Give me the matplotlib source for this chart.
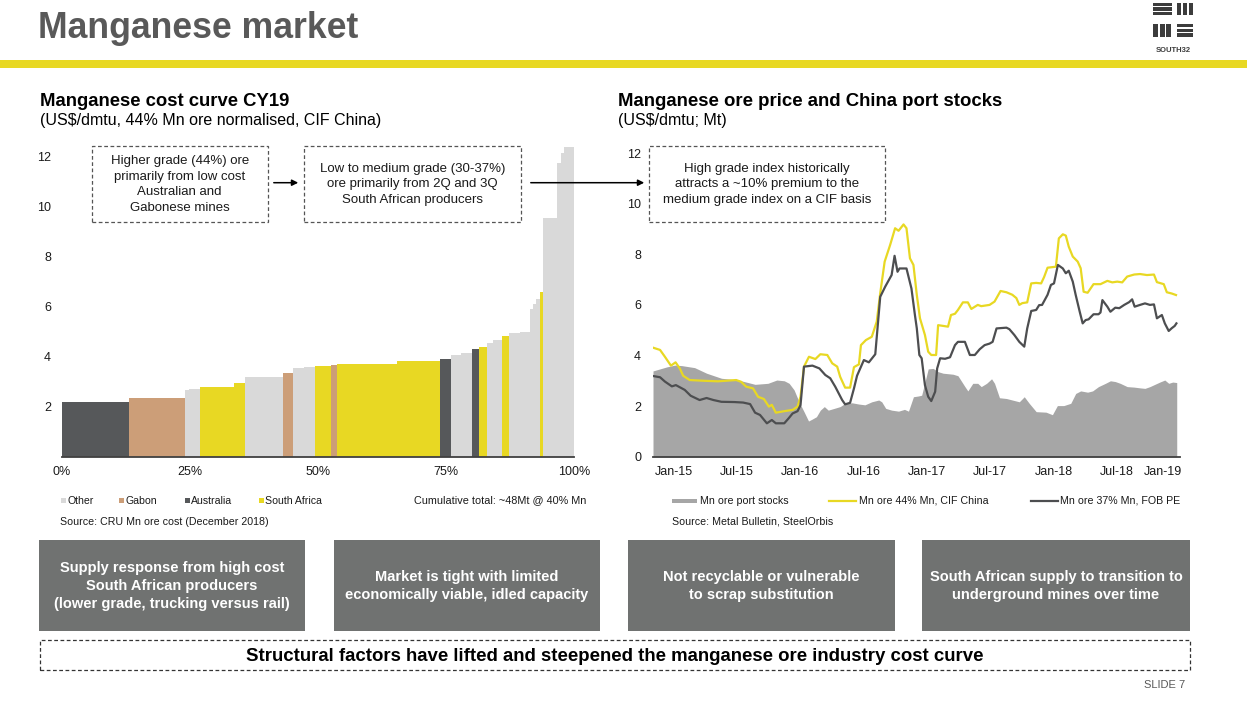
import numpy as np
import matplotlib.pyplot as plt
import matplotlib.transforms as mtrans
from matplotlib.patches import Rectangle, FancyArrowPatch

plt.rcParams['font.family'] = ['Liberation Sans', 'DejaVu Sans']

W, H = 1247, 711

# ---- cost curve data (cumulative % end of each producer, cost, origin) ----
seg_end = [13.2, 24.1, 24.9, 26.9, 33.7, 35.7, 40.0, 43.1, 45.2, 47.2, 49.5,
           52.5, 53.8, 59.9, 65.4, 73.9, 76.0, 78.0, 80.1, 81.4, 83.0, 84.2,
           85.9, 87.4, 89.5, 91.5, 92.0, 92.6, 93.3, 93.9, 96.7, 97.5, 98.0, 100.0]
seg_cost = [2.18, 2.33, 2.65, 2.72, 2.79, 2.95, 3.18, 3.2, 3.36, 3.55, 3.6,
            3.64, 3.67, 3.69, 3.71, 3.84, 3.91, 4.08, 4.16, 4.29, 4.4, 4.55,
            4.65, 4.83, 4.93, 5.0, 5.9, 6.1, 6.3, 6.6, 9.53, 11.76, 12.13, 12.37]
seg_region = ["Australia", "Gabon", "Other", "Other", "South Africa", "South Africa",
              "Other", "Other", "Gabon", "Other", "Other", "South Africa", "Gabon",
              "South Africa", "South Africa", "South Africa", "Australia", "Other",
              "Other", "Australia", "South Africa", "Other", "Other", "South Africa",
              "Other", "Other", "Other", "Other", "Other", "South Africa", "Other",
              "Other", "Other", "Other"]
region_names = ["Other", "Gabon", "Australia", "South Africa"]
region_colors = {"Other": "#D9D9D9", "Gabon": "#CC9E78",
                 "Australia": "#56585A", "South Africa": "#E8D823"}

# ---- price and port stocks (months since Jan-2015) ----
hg_x = [-1.98, -1.31, -0.85, -0.28, 0.16, 0.56, 0.88, 1.50, 2.91, 4.18, 5.91, 6.38, 6.85, 7.51,
        7.98, 8.54, 9.01, 9.29, 9.67, 10.47, 11.26, 11.73, 12.01, 12.34, 12.81, 13.42, 13.89,
        14.55, 15.02, 15.49, 15.77, 16.24, 16.71, 17.08, 17.55, 17.74, 18.21, 18.77, 19.24, 19.57,
        19.99, 20.51, 20.98, 21.31, 21.78, 22.06, 22.39, 22.72, 23.04, 23.34, 23.81, 24.12,
        24.41, 24.87, 25.06, 25.53, 26.00, 26.28, 26.66, 26.94, 27.41, 27.88, 28.21, 28.82, 29.15,
        29.94, 30.41, 30.98, 31.54, 32.10, 32.48, 32.76, 33.04, 33.51, 33.89, 34.36, 34.83, 35.11,
        35.44, 36.23, 36.51, 36.89, 37.17, 37.45, 37.83, 38.30, 38.58, 38.86, 39.24, 39.80, 40.46,
        41.11, 41.58, 42.05, 42.52, 42.99, 43.65, 44.21, 44.87, 45.53, 45.81, 46.46, 46.75, 47.22, 47.62]
hg_price = [4.31, 4.22, 3.95, 3.6, 3.73, 3.49, 3.2, 3.03, 3.0, 2.98, 3.03, 2.96, 2.77, 2.7,
            2.37, 2.28, 1.98, 2.05, 1.74, 1.8, 1.85, 1.98, 2.37, 3.56, 3.95, 3.86, 4.05,
            4.02, 3.69, 3.56, 3.16, 2.73, 2.73, 3.54, 3.65, 4.41, 4.61, 4.74, 5.34, 6.46,
            7.71, 8.37, 9.03, 8.93, 9.18, 9.03, 7.84, 7.58, 6.39, 5.47, 4.81, 4.15,
            4.02, 4.02, 5.2, 5.17, 5.14, 5.6, 5.65, 5.8, 6.1, 6.1, 5.84, 6.0, 5.95,
            6.0, 6.13, 6.55, 6.5, 6.4, 6.27, 6.0, 6.07, 6.1, 6.85, 6.87, 6.85, 7.1,
            7.47, 7.51, 8.63, 8.79, 8.74, 8.3, 7.91, 7.71, 7.45, 6.52, 6.48, 6.82, 6.82,
            6.95, 6.89, 6.92, 6.89, 7.12, 7.2, 7.22, 7.18, 7.2, 6.9, 6.82, 6.5, 6.45, 6.39]

mg_x = [-1.98, -1.31, -0.85, -0.19, 0.19, 1.03, 1.59, 2.44, 3.10, 3.75, 4.51, 5.73, 6.57, 7.23, 7.70,
        8.17, 8.82, 9.29, 9.67, 10.47, 10.89, 11.26, 11.73, 12.01, 12.34, 13.14, 13.80, 14.36,
        14.83, 15.30, 15.96, 16.24, 16.71, 17.08, 17.37, 18.02, 18.49, 19.10, 19.57, 20.04, 20.65,
        20.93, 21.21, 21.40, 22.06, 22.53, 22.86, 23.04, 23.28, 23.50, 23.81, 24.12, 24.41, 24.78,
        24.97, 25.25, 25.72, 26.19, 26.66, 26.94, 27.60, 28.07, 28.54, 29.01, 29.47, 29.94, 30.23,
        30.60, 31.54, 31.82, 32.29, 32.76, 33.23, 33.51, 33.89, 34.36, 34.64, 34.92, 35.44, 35.76,
        36.05, 36.42, 36.89, 37.17, 37.45, 37.83, 38.11, 38.49, 38.77, 39.05, 39.33, 39.80, 40.27,
        40.46, 40.64, 41.11, 41.40, 41.86, 42.24, 42.71, 43.18, 43.46, 43.70, 44.21, 44.68, 45.15,
        45.53, 45.81, 46.28, 46.56, 46.93, 47.22, 47.50, 47.66]
mg_price = [3.19, 3.14, 2.97, 2.78, 2.83, 2.64, 2.41, 2.24, 2.32, 2.24, 2.17, 2.16, 2.14, 2.08,
            1.74, 1.65, 1.32, 1.45, 1.32, 1.32, 1.52, 1.71, 1.8, 2.04, 3.56, 3.6, 3.49, 3.23,
            3.1, 2.77, 2.24, 2.07, 2.13, 2.7, 3.2, 3.82, 3.73, 4.05, 6.32, 6.72, 7.18,
            7.94, 7.31, 7.44, 7.44, 6.65, 5.6, 5.07, 4.02, 3.89, 2.83, 2.37, 2.2, 2.57,
            3.49, 3.89, 3.87, 3.93, 4.41, 4.54, 4.54, 4.02, 4.02, 4.25, 4.41, 4.47, 4.54,
            5.07, 5.1, 5.04, 4.81, 4.54, 4.35, 5.07, 5.76, 5.8, 5.99, 6.0, 6.4, 6.79,
            6.85, 7.58, 7.44, 7.25, 7.35, 6.92, 6.39, 5.73, 5.27, 5.4, 5.43, 5.63, 5.63,
            5.7, 6.19, 5.93, 5.73, 5.89, 5.87, 6.0, 6.11, 6.22, 5.93, 6.0, 6.06, 6.0,
            6.02, 5.47, 5.6, 5.27, 4.97, 5.08, 5.17, 5.27]

stock_x = [-1.98, -0.66, 0.09, 0.75, 1.97, 3.10, 4.51, 6.10, 7.70, 8.92, 9.76, 10.47, 10.93, 11.40,
           11.87, 12.34, 12.77, 13.14, 13.52, 13.89, 14.27, 14.64, 15.21, 15.77, 16.24, 16.90, 17.55,
           18.12, 18.77, 19.43, 19.71, 20.09, 20.65, 21.31, 21.87, 22.25, 22.72, 23.19, 23.50, 24.12,
           24.59, 25.06, 25.53, 26.47, 26.94, 27.60, 27.88, 28.35, 28.82, 29.15, 29.66, 30.13, 30.41,
           30.88, 31.54, 32.10, 32.76, 33.23, 33.70, 34.36, 35.29, 35.90, 36.37, 36.98, 37.64, 38.11,
           38.58, 39.24, 39.71, 40.27, 40.93, 41.40, 41.86, 42.33, 42.99, 43.65, 44.21, 44.68, 45.15,
           45.62, 46.09, 46.56, 46.93, 47.31, 47.69]
stock_mt = [3.39, 3.55, 3.62, 3.6, 3.52, 3.3, 3.1, 3.03, 2.86, 2.9, 3.03, 3.0, 2.9, 2.64,
            2.17, 1.78, 1.41, 1.49, 1.58, 1.84, 1.98, 1.84, 1.91, 1.98, 2.11, 2.13, 2.08,
            2.05, 2.17, 2.24, 2.17, 1.91, 1.84, 1.8, 1.87, 1.8, 2.37, 2.4, 2.43, 3.47,
            3.49, 3.36, 3.3, 3.26, 3.2, 2.77, 2.6, 2.9, 2.9, 2.77, 2.9, 3.08, 2.9,
            2.33, 2.3, 2.24, 2.17, 2.37, 2.11, 1.78, 1.76, 1.66, 2.02, 2.02, 2.11, 2.5,
            2.6, 2.55, 2.6, 2.77, 2.9, 3.0, 2.97, 2.9, 2.77, 2.75, 2.72, 2.7, 2.77,
            2.86, 2.95, 3.03, 2.9, 2.95, 2.93]

date_ticks = [0, 6, 12, 18, 24, 30, 36, 42, 48]
date_labels = ["Jan-15", "Jul-15", "Jan-16", "Jul-16", "Jan-17", "Jul-17", "Jan-18", "Jul-18", "Jan-19"]

YELLOW = "#E8D823"
DARK = "#4D4E50"
TXT = "#1A1A1A"


def fx(px):
    return px / W


def fy(py):
    return 1 - py / H


def rect(x0, y0, x1, y1, **kw):
    fig.add_artist(Rectangle((fx(x0), fy(y1)), (x1 - x0) / W, (y1 - y0) / H,
                             transform=fig.transFigure, **kw))


fig = plt.figure(figsize=(W / 100, H / 100), dpi=100)

# header
fig.text(fx(38), fy(29), "Manganese market", fontsize=25.7, fontweight="bold",
         color="#595959", ha="left", va="center")
rect(0, 60, W, 68, color=YELLOW, lw=0)

# logo
LOGO = "#3C3C3C"
for yy in [2.7, 7.2, 11.7]:
    rect(1152.7, yy, 1171.7, yy + 3.3, color=LOGO, lw=0)
for xx in [1176.7, 1182.7, 1188.7]:
    rect(xx, 2.7, xx + 4.6, 15, color=LOGO, lw=0)
for xx in [1152.7, 1159.5, 1166.3]:
    rect(xx, 24, xx + 5.0, 36.7, color=LOGO, lw=0)
for yy in [24, 28.6, 33.2]:
    rect(1176.7, yy, 1193.3, yy + 3.3, color=LOGO, lw=0)
fig.text(fx(1173), fy(50), "SOUTH32", fontsize=5.5, fontweight="bold",
         color=LOGO, ha="center", va="center")

# section titles
fig.text(fx(40), fy(101), "Manganese cost curve CY19", fontsize=13.3, fontweight="bold",
         color="black", ha="left", va="center")
fig.text(fx(40), fy(121), "(US$/dmtu, 44% Mn ore normalised, CIF China)", fontsize=11.5,
         color="black", ha="left", va="center")
fig.text(fx(618), fy(101), "Manganese ore price and China port stocks", fontsize=13.4,
         fontweight="bold", color="black", ha="left", va="center")
fig.text(fx(618), fy(121), "(US$/dmtu; Mt)", fontsize=11.5, color="black",
         ha="left", va="center")

# ---- left chart: cost curve ----
ax1 = fig.add_axes([fx(61.7), fy(456.7), (574 - 61.7) / W, 12.4 * 25 / H])
seg_start = [0] + seg_end[:-1]
seg_w = [e - s for s, e in zip(seg_start, seg_end)]
ax1.bar(seg_start, seg_cost, width=seg_w, align="edge",
        color=[region_colors[r] for r in seg_region], linewidth=0)
ax1.set_xlim(0, 100)
ax1.set_ylim(0, 12.4)
ax1.set_yticks([2, 4, 6, 8, 10, 12])
ax1.set_xticks([0, 25, 50, 75, 100])
ax1.set_xticklabels(["0%", "25%", "50%", "75%", "100%"])

# ---- right chart: prices and stocks ----
ax2 = fig.add_axes([fx(653), fy(456.7), 527 / W, 12 * 25.3 / H])
ax2.fill_between(stock_x, stock_mt, color="#A6A6A6", lw=0)
ax2.plot(hg_x, hg_price, color=YELLOW, lw=1.6)
ax2.plot(mg_x, mg_price, color=DARK, lw=1.6)
ax2.set_xlim(-1.98, 47.69)
ax2.set_ylim(0, 12)
ax2.set_yticks([0, 2, 4, 6, 8, 10, 12])
ax2.set_xticks(date_ticks)
ax2.set_xticklabels(date_labels)

for ax in [ax1, ax2]:
    for s in ["top", "right", "left"]:
        ax.spines[s].set_visible(False)
    ax.spines["bottom"].set_color("#404040")
    ax.spines["bottom"].set_linewidth(1.3)
    ax.tick_params(length=0, labelsize=9, labelcolor=TXT)
    ax.tick_params(axis="x", pad=6.5)
    ax.patch.set_alpha(0)
ax1.tick_params(axis="y", pad=7.7)
ax2.tick_params(axis="y", pad=8.6)

# last date label is pulled inside the plot area, like the original
last_lab = ax2.get_xticklabels()[-1]
last_lab.set_transform(last_lab.get_transform() +
                       mtrans.ScaledTranslation(-0.17, 0, fig.dpi_scale_trans))

# ---- annotation boxes ----
box_kw = dict(fill=False, ls=(0, (3, 2)), lw=0.9, ec="#555555")
rect(91.7, 146, 267.7, 221.7, **box_kw)
rect(304.3, 146, 521, 221.7, **box_kw)
rect(649.3, 146, 885, 221.7, **box_kw)
fig.text(fx(179.7), fy(184.5), "Higher grade (44%) ore\nprimarily from low cost\nAustralian and\nGabonese mines",
         fontsize=9.5, ha="center", va="center", color=TXT, linespacing=1.4)
fig.text(fx(412.6), fy(184.5), "Low to medium grade (30-37%)\nore primarily from 2Q and 3Q\nSouth African producers",
         fontsize=9.5, ha="center", va="center", color=TXT, linespacing=1.4)
fig.text(fx(767), fy(184.5), "High grade index historically\nattracts a ~10% premium to the\nmedium grade index on a CIF basis",
         fontsize=9.5, ha="center", va="center", color=TXT, linespacing=1.4)
arrow_kw = dict(arrowstyle="-|>", color="black", lw=1.1, mutation_scale=9)
fig.add_artist(FancyArrowPatch((fx(271), fy(182.7)), (fx(301), fy(182.7)),
                               transform=fig.transFigure, **arrow_kw))
fig.add_artist(FancyArrowPatch((fx(528), fy(182.7)), (fx(647), fy(182.7)),
                               transform=fig.transFigure, **arrow_kw))

# ---- legends ----
leg_x = [60.7, 119.3, 184.7, 258.6]
for name, lx in zip(region_names, leg_x):
    rect(lx, 497.5, lx + 5, 502.5, color=region_colors[name], lw=0)
    fig.text(fx(lx + 6.3), fy(500.5), name, fontsize=7.6, color=TXT, ha="left", va="center")
fig.text(fx(586.6), fy(500.5), "Cumulative total: ~48Mt @ 40% Mn", fontsize=7.8,
         color=TXT, ha="right", va="center")
fig.text(fx(60), fy(522), "Source: CRU Mn ore cost (December 2018)", fontsize=7.7,
         color=TXT, ha="left", va="center")

rect(672, 498.5, 697, 503, color="#A6A6A6", lw=0)
fig.text(fx(700), fy(500.5), "Mn ore port stocks", fontsize=7.7, color=TXT, ha="left", va="center")
fig.add_artist(plt.Line2D([fx(829.4), fx(856.1)], [fy(500.5), fy(500.5)], color=YELLOW, lw=1.6,
                          transform=fig.transFigure))
fig.text(fx(858.7), fy(500.5), "Mn ore 44% Mn, CIF China", fontsize=7.7, color=TXT, ha="left", va="center")
fig.add_artist(plt.Line2D([fx(1030.5), fx(1058)], [fy(500.5), fy(500.5)], color=DARK, lw=1.6,
                          transform=fig.transFigure))
fig.text(fx(1059.8), fy(500.5), "Mn ore 37% Mn, FOB PE", fontsize=7.7, color=TXT, ha="left", va="center")
fig.text(fx(672), fy(522), "Source: Metal Bulletin, SteelOrbis", fontsize=7.7,
         color=TXT, ha="left", va="center")

# ---- bottom message boxes ----
msgs = ["Supply response from high cost\nSouth African producers\n(lower grade, trucking versus rail)",
        "Market is tight with limited\neconomically viable, idled capacity",
        "Not recyclable or vulnerable\nto scrap substitution",
        "South African supply to transition to\nunderground mines over time"]
box_x = [(39, 305), (334, 600), (628, 895), (922, 1190)]
for (x0, x1), m in zip(box_x, msgs):
    rect(x0, 540, x1, 631, color="#707271", lw=0)
    fig.text(fx((x0 + x1) / 2), fy(586), m, fontsize=10.5, fontweight="bold",
             color="white", ha="center", va="center", linespacing=1.32)

rect(40, 640, 1190, 670, fill=False, ls=(0, (3, 2)), lw=0.9, ec="#333333")
fig.text(fx(615), fy(656.5), "Structural factors have lifted and steepened the manganese ore industry cost curve",
         fontsize=13.4, fontweight="bold", color="black", ha="center", va="center")

fig.text(fx(1185), fy(685), "SLIDE 7", fontsize=8, color="#595959", ha="right", va="center")

fig.savefig("out.png", dpi=100)
